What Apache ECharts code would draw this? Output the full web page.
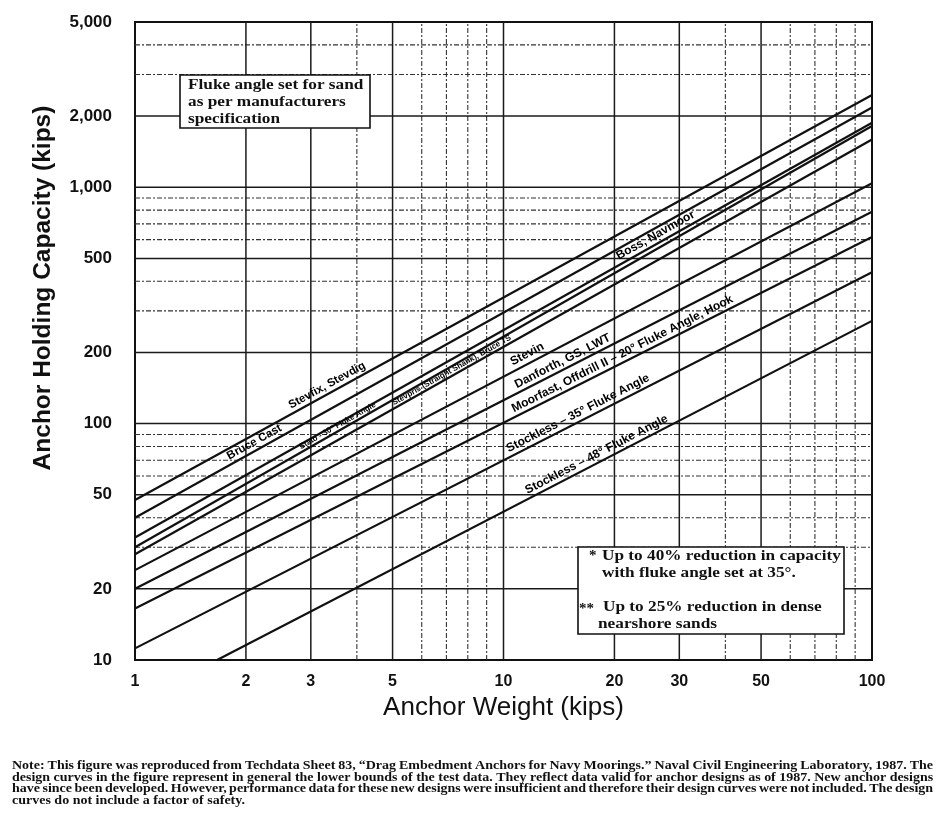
<!DOCTYPE html>
<html>
<head>
<meta charset="utf-8">
<script src="https://cdn.jsdelivr.net/npm/echarts@6/dist/echarts.min.js"></script>
<style>
html,body{margin:0;padding:0;background:#fff;}
#chart{width:940px;height:825px;position:absolute;left:0;top:0;}
#note{position:absolute;left:12px;top:760px;width:757px;transform:scaleX(1.217);transform-origin:0 0;font-family:'Liberation Serif','Times New Roman',serif;font-size:11.5px;font-weight:bold;line-height:11.5px;color:#111;}
#note .j{display:flex;justify-content:space-between;white-space:nowrap;}
#note .l{white-space:nowrap;}
</style>
</head>
<body>
<div id="chart"></div>
<div id="note"></div>
<script>
// ---- data ----
const xTickValues = [1, 2, 3, 5, 10, 20, 30, 50, 100];
const yTickValues = [10, 20, 50, 100, 200, 500, 1000, 2000, 5000];
const xGridSolid = [2, 3, 5, 10, 20, 30, 50];
const xGridDashed = [4, 6, 7, 8, 9, 40, 60, 70, 80, 90];
const yGridSolid = [20, 50, 100, 200, 500, 1000, 2000];
const yGridDashed = [30, 40, 60, 70, 80, 90, 300, 400, 600, 700, 800, 900, 3000, 4000];

const anchorNames = ['Stevfix, Stevdig', 'Bruce Cast', 'Stato', 'Stevpris, Bruce TS', 'Boss, Navmoor',
  'Stevin', 'Danforth, GS, LWT', 'Moorfast, Offdrill II, Hook', 'Stockless 35°', 'Stockless 48°'];
const startWeight = [1, 1, 1, 1, 1, 1, 1, 1, 1, 1.67];
const startCapacity = [47.5, 40, 33, 30, 28, 24, 20, 16.5, 11.2, 10];
const endWeight = [100, 100, 100, 100, 100, 100, 100, 100, 100, 100];
const endCapacity = [2455, 2175, 1875, 1815, 1592, 1040, 787, 616, 437, 272];

const noteLines = [
  'Note: This figure was reproduced from Techdata Sheet 83, “Drag Embedment Anchors for Navy Moorings.” Naval Civil Engineering Laboratory, 1987. The',
  'design curves in the figure represent in general the lower bounds of the test data. They reflect data valid for anchor designs as of 1987. New anchor designs',
  'have since been developed. However, performance data for these new designs were insufficient and therefore their design curves were not included. The design',
  'curves do not include a factor of safety.'
];

// ---- label placement (line index, weight along line, offset above line) ----
const labelPlacement = [
  {text: 'Stevfix, Stevdig', line: 0, w: 3.4, off: 8, size: 11.5, bold: true},
  {text: 'Bruce Cast', line: 1, w: 2.16, off: 8, size: 11.5, bold: true},
  {text: 'Stato - 30° Fluke Angle', line: 3, w: 3.6, off: 5, size: 8, bold: true},
  {text: 'Stevpris (Straight Shank), Bruce TS', line: 4, w: 7.35, off: 5, size: 8, bold: true},
  {text: 'Boss, Navmoor', line: 2, w: 26.5, off: 8, size: 12, bold: true},
  {text: 'Stevin', line: 5, w: 11.9, off: 9, size: 12, bold: true},
  {text: 'Danforth, GS, LWT', line: 6, w: 14.8, off: 8, size: 12, bold: true},
  {text: 'Moorfast, Offdrill II – 20° Fluke Angle, Hook', line: 7, w: 21.5, off: 8, size: 12, bold: true},
  {text: 'Stockless – 35° Fluke Angle', line: 8, w: 16.3, off: 8, size: 12, bold: true},
  {text: 'Stockless – 48° Fluke Angle', line: 9, w: 18.3, off: 8, size: 12, bold: true}
];

const SANS = "'Liberation Sans', Arial, sans-serif";
const SERIF = "'Liberation Serif', 'Times New Roman', serif";

// note text (real text, justified per line)
const noteEl = document.getElementById('note');
noteLines.forEach((ln, k) => {
  const d = document.createElement('div');
  if (k < noteLines.length - 1) {
    d.className = 'j';
    ln.split(' ').forEach(w => { const s = document.createElement('span'); s.textContent = w; d.appendChild(s); });
  } else {
    d.className = 'l';
    d.textContent = ln;
  }
  noteEl.appendChild(d);
});

function gridSeries(vals, axis, dashed) {
  return vals.map(v => ({
    type: 'line', silent: true, symbol: 'none', animation: false, z: 1,
    data: axis === 'x' ? [[v, 10], [v, 5000]] : [[1, v], [100, v]],
    lineStyle: dashed ? {color: '#333', width: 1.1, type: [5, 2, 2, 2]} : {color: '#1a1a1a', width: 1.5, type: 'solid'}
  }));
}

const anchorSeries = anchorNames.map((n, i) => ({
  name: n, type: 'line', symbol: 'none', animation: false, z: 3, silent: true,
  data: [[startWeight[i], startCapacity[i]], [endWeight[i], endCapacity[i]]],
  lineStyle: {color: '#111', width: 2.2}
}));

const chart = echarts.init(document.getElementById('chart'));
chart.setOption({
  animation: false,
  backgroundColor: '#fff',
  grid: {left: 135, right: 68, top: 22, bottom: 165, show: true, borderColor: '#111', borderWidth: 2, backgroundColor: 'transparent'},
  xAxis: {
    type: 'log', logBase: 10, min: 1, max: 100,
    axisLine: {show: true, lineStyle: {color: '#111', width: 2}},
    axisTick: {show: false}, splitLine: {show: false}, minorSplitLine: {show: false},
    axisLabel: {customValues: xTickValues, formatter: v => String(v), fontSize: 16, fontWeight: 'bold', color: '#111', fontFamily: SANS, margin: 14},
    name: 'Anchor Weight (kips)', nameLocation: 'middle', nameGap: 30,
    nameTextStyle: {fontSize: 26, color: '#111', fontFamily: SANS}
  },
  yAxis: {
    type: 'log', logBase: 10, min: 10, max: 5000,
    axisLine: {show: true, lineStyle: {color: '#111', width: 2}},
    axisTick: {show: false}, splitLine: {show: false}, minorSplitLine: {show: false},
    axisLabel: {customValues: yTickValues, formatter: v => v >= 1000 ? Number(v).toLocaleString('en-US') : String(v), fontSize: 17, fontWeight: 'bold', color: '#111', fontFamily: SANS, margin: 23},
    name: 'Anchor Holding Capacity (kips)', nameLocation: 'middle', nameGap: 79,
    nameTextStyle: {fontSize: 24.5, color: '#111', fontFamily: "'Liberation Sans Narrow', " + SANS, fontWeight: 'bold', padding: [0, 0, 0, 106]}
  },
  series: [].concat(
    gridSeries(xGridDashed, 'x', true), gridSeries(yGridDashed, 'y', true),
    gridSeries(xGridSolid, 'x', false), gridSeries(yGridSolid, 'y', false),
    anchorSeries)
});

const ZB = 100;
const graphics = [
  {type: 'rect', z: ZB, x: 180, y: 75, shape: {x: 0, y: 0, width: 190, height: 53}, style: {fill: '#fff', stroke: '#111', lineWidth: 1.6}},
  {type: 'text', z: ZB + 1, x: 188, y: 77, scaleX: 1.15, style: {text: 'Fluke angle set for sand\nas per manufacturers\nspecification', font: 'bold 15px ' + SERIF, lineHeight: 17, fill: '#111'}},
  {type: 'rect', z: ZB, x: 578, y: 547, shape: {x: 0, y: 0, width: 266, height: 87}, style: {fill: '#fff', stroke: '#111', lineWidth: 1.6}},
  {type: 'text', z: ZB + 1, x: 589, y: 549, style: {text: '*', font: 'bold 15px ' + SERIF, fill: '#111'}},
  {type: 'text', z: ZB + 1, x: 602, y: 548, scaleX: 1.15, style: {text: 'Up to 40% reduction in capacity\nwith fluke angle set at 35°.', font: 'bold 15px ' + SERIF, lineHeight: 17, fill: '#111'}},
  {type: 'text', z: ZB + 1, x: 579, y: 602, style: {text: '**', font: 'bold 15px ' + SERIF, fill: '#111'}},
  {type: 'text', z: ZB + 1, x: 603, y: 600, scaleX: 1.15, style: {text: 'Up to 25% reduction in dense', font: 'bold 15px ' + SERIF, fill: '#111'}},
  {type: 'text', z: ZB + 1, x: 598, y: 617, scaleX: 1.15, style: {text: 'nearshore sands', font: 'bold 15px ' + SERIF, fill: '#111'}}
];

labelPlacement.forEach(p => {
  const i = p.line;
  const a = chart.convertToPixel({gridIndex: 0}, [startWeight[i], startCapacity[i]]);
  const b = chart.convertToPixel({gridIndex: 0}, [endWeight[i], endCapacity[i]]);
  const ang = Math.atan2(b[1] - a[1], b[0] - a[0]);
  const t = (Math.log10(p.w) - Math.log10(startWeight[i])) / (Math.log10(endWeight[i]) - Math.log10(startWeight[i]));
  const px = a[0] + t * (b[0] - a[0]);
  const py = a[1] + t * (b[1] - a[1]);
  const nx = Math.sin(ang), ny = -Math.cos(ang);
  graphics.push({
    type: 'text', z: 50, x: px + nx * p.off, y: py + ny * p.off, rotation: -ang,
    style: {text: p.text, align: 'center', verticalAlign: 'middle', font: (p.bold ? 'bold ' : '') + p.size + 'px ' + SANS, fill: '#000'}
  });
});

chart.setOption({graphic: graphics});
</script>
</body>
</html>
